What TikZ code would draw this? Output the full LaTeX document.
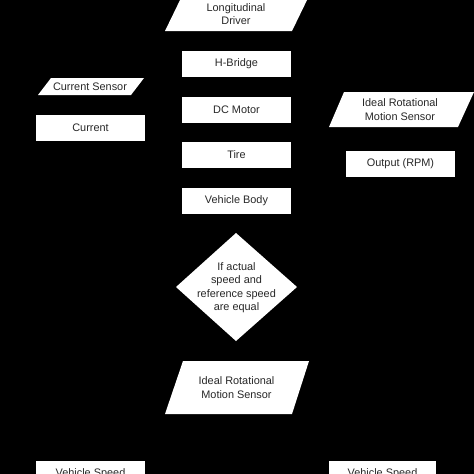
\documentclass[tikz,border=0pt]{standalone}
\usepackage{fontspec}
\setmainfont{Liberation Sans}
\definecolor{txt}{RGB}{40,40,40}
\begin{document}
\begin{tikzpicture}[x=1pt,y=-1pt,
  lbl/.style={text=txt,align=center,inner sep=0pt,font=\fontsize{10.9}{13.4}\selectfont},
  box/.style={lbl,fill=white,minimum width=109pt,minimum height=26pt,anchor=center},
  shapefill/.style={fill=white}]
\useasboundingbox (0,0) rectangle (474,474);
\clip (0,0) rectangle (474,474);
\fill[black] (0,0) rectangle (474,474);
% Longitudinal Driver (parallelogram)
\fill[shapefill] (165,31) -- (292,31) -- (308.5,-3) -- (181.5,-3) -- cycle;
\node[lbl] (drv) at (236,14) {Longitudinal\\Driver};
% column of blocks
\node[box] (hb) at (236.5,64) {H-Bridge};
\node[box] (dc) at (236.5,110) {DC Motor};
\node[box] (tire) at (236.5,155) {Tire};
\node[box] (vb) at (236.5,201) {Vehicle Body};
% Current sensor
\fill[shapefill] (38,95) -- (131,95) -- (144,78) -- (51,78) -- cycle;
\node[lbl] (cs) at (90,86.5) {Current Sensor};
\node[box] (cur) at (90.5,128) {Current};
% Right sensor
\fill[shapefill] (329,127) -- (458,127) -- (474,92) -- (344,92) -- cycle;
\node[lbl] (irms1) at (400,109.5) {Ideal Rotational\\Motion Sensor};
\node[box] (out) at (400.5,164) {Output (RPM)};
% Decision diamond
\fill[shapefill] (236,233) -- (297,287) -- (236,341) -- (176,287) -- cycle;
\node[lbl] (dec) at (236.5,287.5) {If actual\\speed and\\reference speed\\are equal};
% Bottom sensor
\fill[shapefill] (165,414) -- (292,414) -- (309,361) -- (183,361) -- cycle;
\node[lbl] (irms2) at (236.5,387.5) {Ideal Rotational\\Motion Sensor};
% Vehicle speed boxes
\node[box] (vs1) at (90.5,474) {Vehicle Speed};
\node[box,minimum width=107pt] (vs2) at (382.5,474) {Vehicle Speed};
\end{tikzpicture}
\end{document}
